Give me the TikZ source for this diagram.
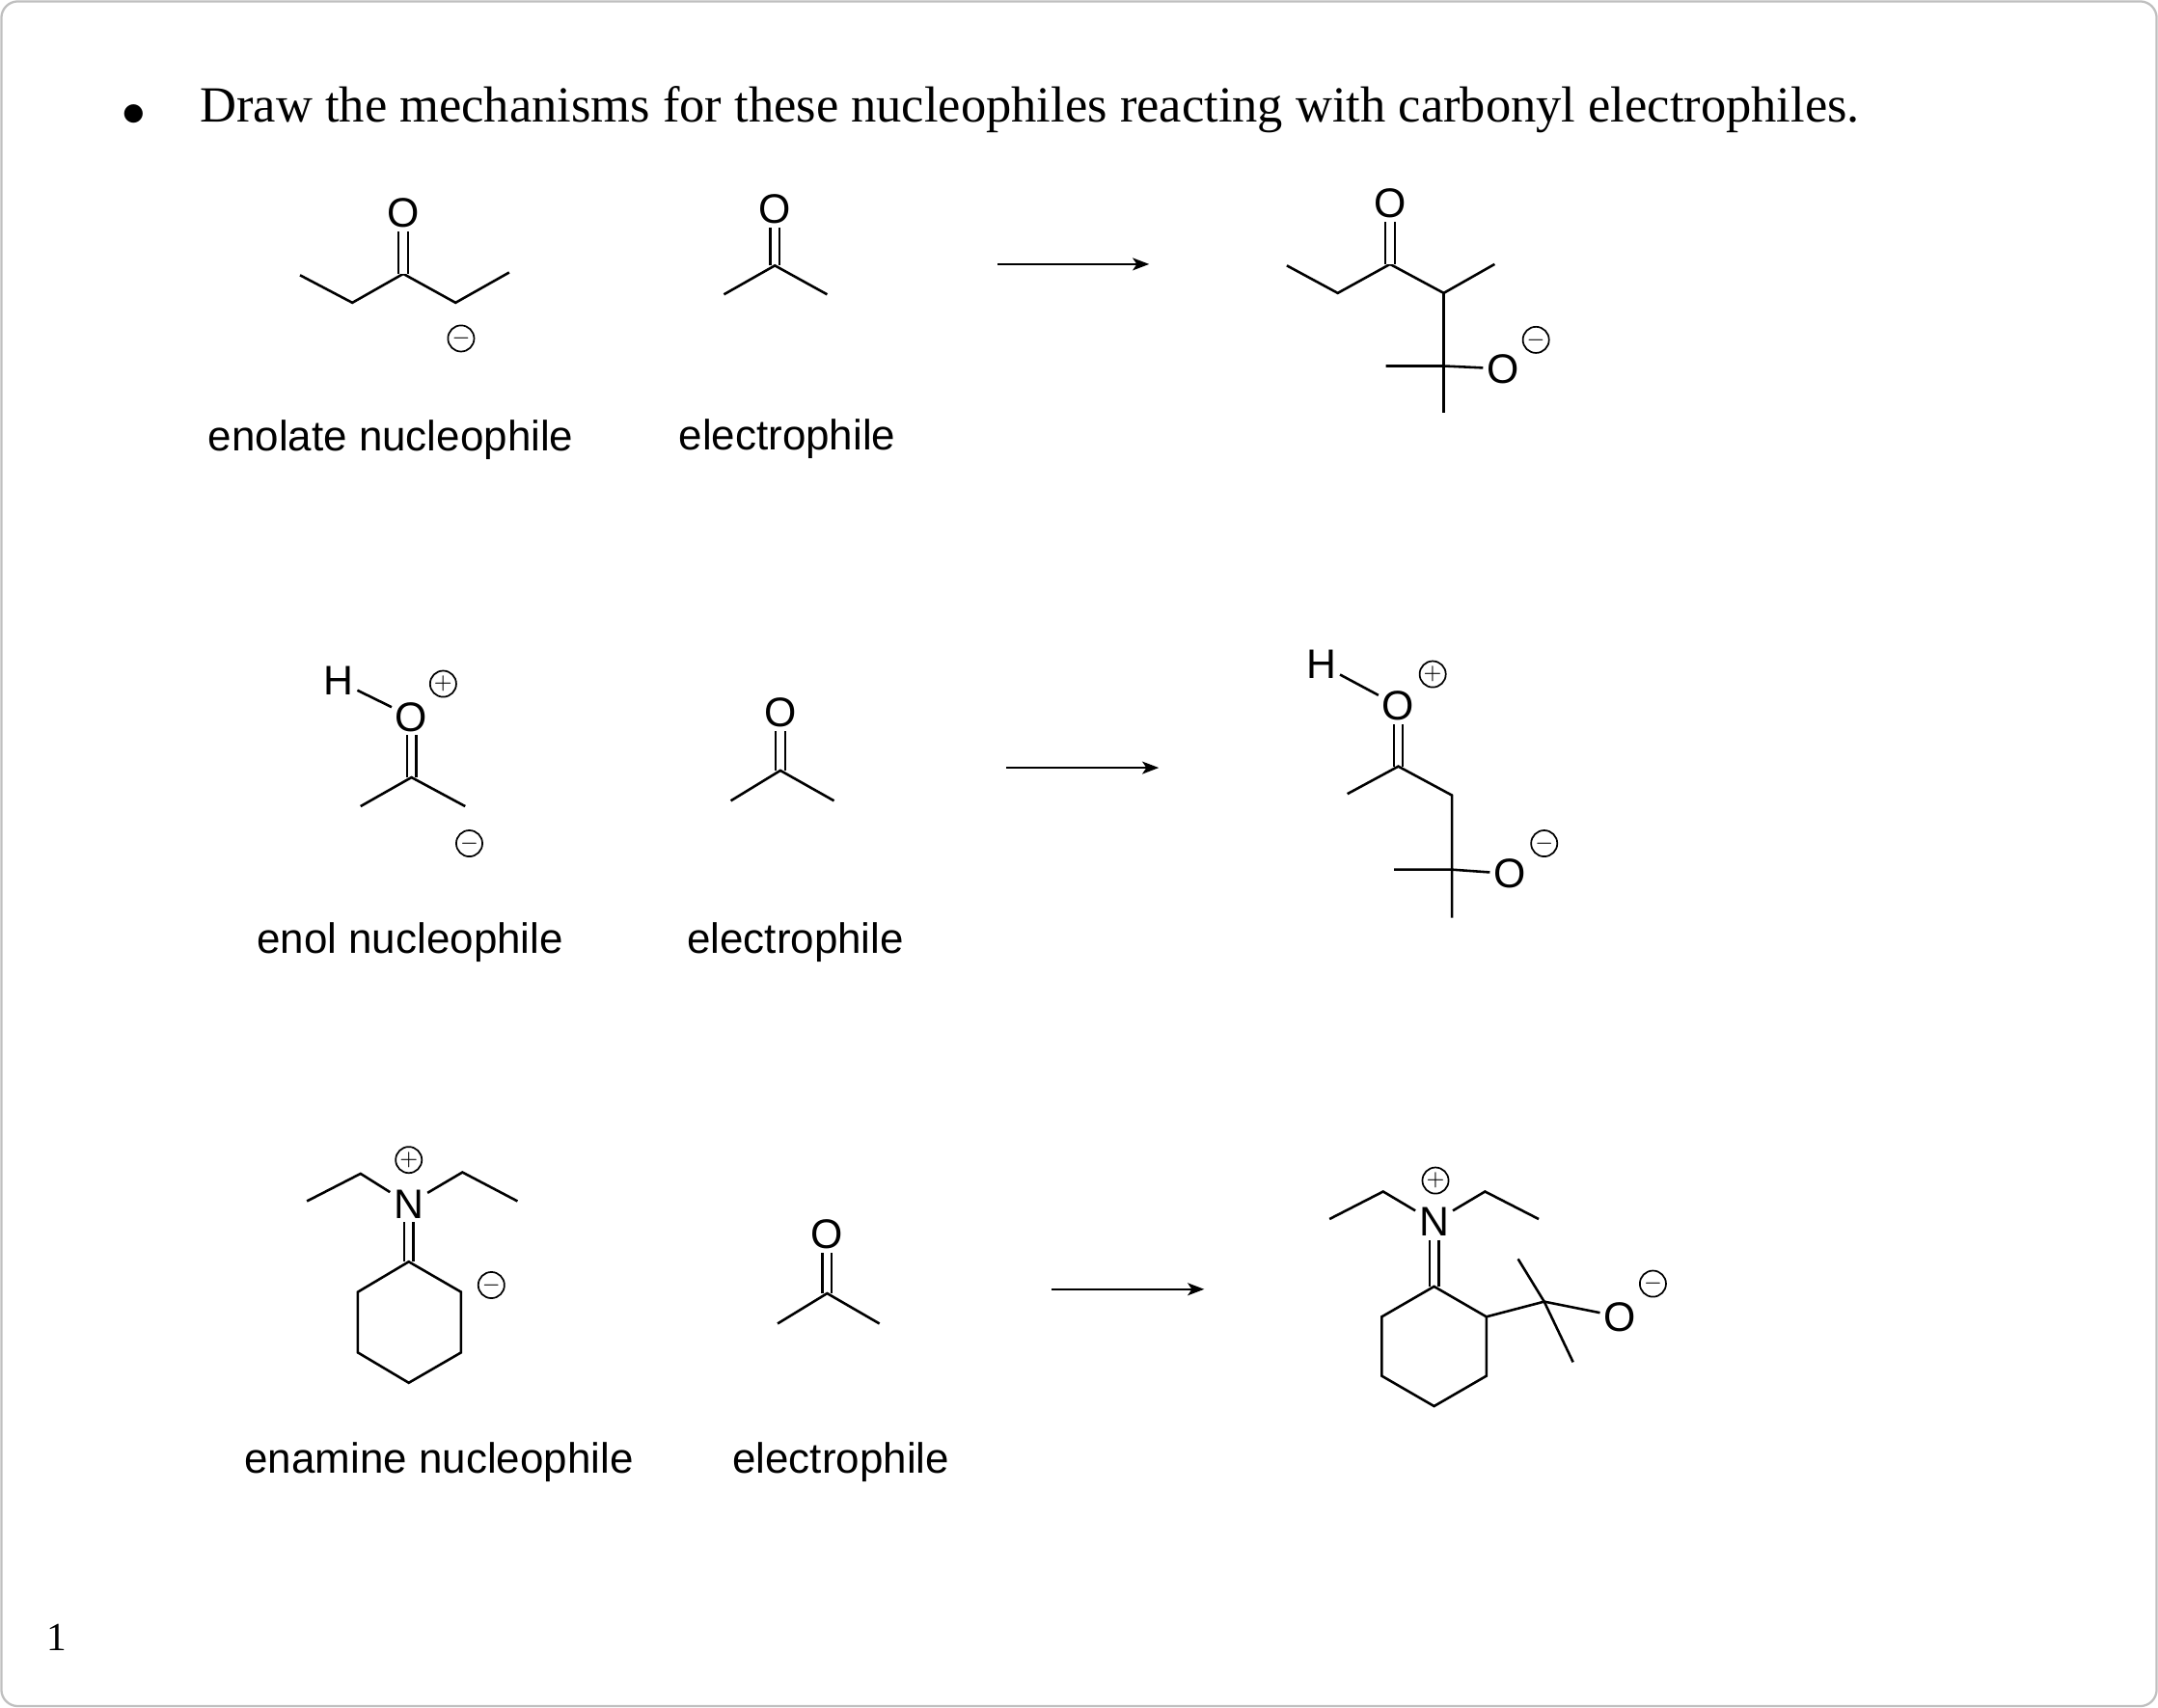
\documentclass[tikz,border=0pt]{standalone}
\usepackage{fontspec}
\setmainfont{Liberation Serif}
\setsansfont{Liberation Sans}
\usetikzlibrary{arrows.meta}
\begin{document}
\begin{tikzpicture}[x=0.5pt,y=-0.5pt,
  bd/.style={line width=0.9pt},
  dbl/.style={double,double distance=2.6pt,line width=0.8pt},
  atom/.style={font=\sffamily\fontsize{15}{15}\selectfont,inner sep=1.2pt},
  chg/.style={circle,draw,line width=0.6pt,minimum size=9.5pt,inner sep=0pt,font=\sffamily\fontsize{8}{8}\selectfont},
  lbl/.style={font=\sffamily\fontsize{15.4}{16}\selectfont},
  rx/.style={line width=0.9pt,-{Stealth[length=6pt,width=4.5pt,inset=1.5pt]}}]
\useasboundingbox (0,0) rectangle (1568,1241);
\draw[gray!50,line width=0.8pt,rounded corners=6pt] (1,1) rectangle (1567,1240);
% title
\node[font=\fontsize{18}{20}\selectfont] (bul) at (97,84) {$\bullet$};
\node[anchor=west,font=\fontsize{18.4}{20}\selectfont,inner sep=0pt] (title) at (145,80) {Draw the mechanisms for these nucleophiles reacting with carbonyl electrophiles.};
\node[font=\fontsize{14.5}{14}\selectfont] (pg) at (41,1190) {1};
% ---- row 1 enolate
\coordinate (a1) at (218,200);\coordinate (a2) at (256,220);\coordinate (a3) at (293,199);\coordinate (a4) at (331,220);\coordinate (a5) at (370,198);
\node[atom] (ao) at (293,155) {O};
\draw[bd] (a1)--(a2)--(a3)--(a4)--(a5);
\draw[dbl] (a3)--(ao);
\node[chg] (am) at (335,246) {$-$};
\node[lbl] (l1) at (284,320) {enolate nucleophile};
% electrophile 1
\node[atom] (eo1) at (563,152) {O};
\coordinate (ec1) at (563,193);
\draw[dbl] (ec1)--(eo1);
\draw[bd] (526,214)--(ec1)--(601,214);
\node[lbl] (l2) at (572,319) {electrophile};
\draw[rx] (725,192)--(835,192);
% product 1
\coordinate (p1) at (935,193);\coordinate (p2) at (972,213);\coordinate (p3) at (1010,192);\coordinate (p4) at (1049,213);\coordinate (p5) at (1086,192);
\node[atom] (po) at (1010,148) {O};
\draw[bd] (p1)--(p2)--(p3)--(p4)--(p5);
\draw[dbl] (p3)--(po);
\coordinate (pq) at (1049,266);
\node[atom] (po2) at (1092,268) {O};
\draw[bd] (p4)--(pq)--(1049,300);
\draw[bd] (1007,266)--(pq)--(po2);
\node[chg] (pm) at (1116,247) {$-$};
% ---- row 2 enol
\node[atom] (bh) at (246,495) {H};
\node[atom] (bo) at (299,521) {O};
\draw[bd] (bh)--(bo);
\node[chg] (bp) at (322,497) {$+$};
\coordinate (bc) at (299,565);
\draw[dbl] (bo)--(bc);
\draw[bd] (262,586)--(bc)--(338,586);
\node[chg] (bm) at (341,613) {$-$};
\node[lbl] (l3) at (298,685) {enol nucleophile};
\node[atom] (eo2) at (567,518) {O};
\coordinate (ec2) at (567,560);
\draw[dbl] (ec2)--(eo2);
\draw[bd] (531,582)--(ec2)--(606,582);
\node[lbl] (l4) at (578,685) {electrophile};
\draw[rx] (731,558)--(842,558);
% product 2
\node[atom] (qh) at (960,483) {H};
\node[atom] (qo) at (1016,513) {O};
\draw[bd] (qh)--(qo);
\node[chg] (qp) at (1041,490) {$+$};
\coordinate (qc) at (1016,557);
\draw[dbl] (qo)--(qc);
\coordinate (qc2) at (1055,578);
\coordinate (qq) at (1055,632);
\draw[bd] (979,577)--(qc)--(qc2)--(qq)--(1055,667);
\node[atom] (qo2) at (1097,635) {O};
\draw[bd] (1013,632)--(qq)--(qo2);
\node[chg] (qm) at (1122,613) {$-$};
% ---- row 3 enamine
\node[atom] (cn) at (297,875) {N};
\node[chg] (cp) at (297,843) {$+$};
\draw[bd] (cn)--(262,853)--(223,873);
\draw[bd] (cn)--(336,852)--(376,873);
\coordinate (r1) at (297,917);
\draw[dbl] (cn)--(r1);
\draw[bd] (r1)--(335,939)--(335,983)--(297,1005)--(260,983)--(260,939)--cycle;
\node[chg] (cm) at (357,934) {$-$};
\node[lbl] (l5) at (319,1063) {enamine nucleophile};
\node[atom] (eo3) at (601,897) {O};
\coordinate (ec3) at (601,940);
\draw[dbl] (ec3)--(eo3);
\draw[bd] (565,962)--(ec3)--(639,962);
\node[lbl] (l6) at (611,1063) {electrophile};
\draw[rx] (764,937)--(875,937);
% product 3
\node[atom] (dn) at (1042,888) {N};
\node[chg] (dp) at (1043,858) {$+$};
\draw[bd] (dn)--(1005,866)--(966,886);
\draw[bd] (dn)--(1079,866)--(1118,886);
\coordinate (s1) at (1042,935);\coordinate (s2) at (1080,957);
\draw[dbl] (dn)--(s1);
\draw[bd] (s1)--(s2)--(1080,1000)--(1042,1022)--(1004,1000)--(1004,957)--cycle;
\coordinate (dq) at (1122,946);
\node[atom] (do) at (1177,957) {O};
\draw[bd] (s2)--(dq)--(do);
\draw[bd] (1103,915)--(dq)--(1143,990);
\node[chg] (dm) at (1201,933) {$-$};
\end{tikzpicture}
\end{document}
